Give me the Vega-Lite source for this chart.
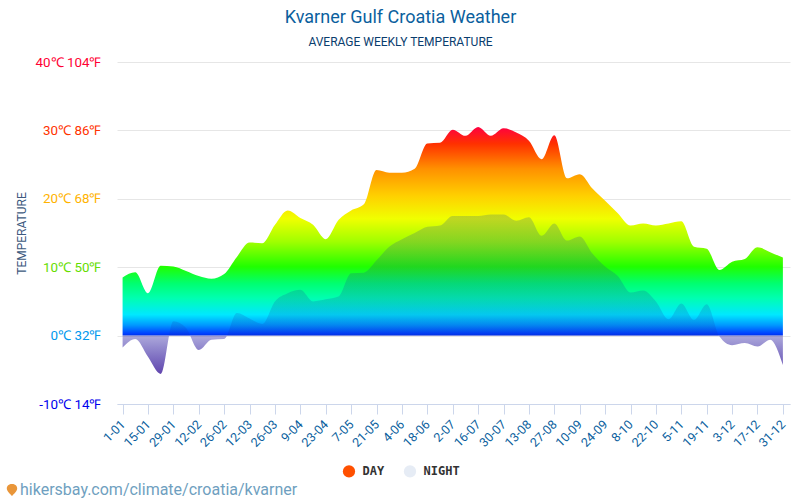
{
  "$schema": "https://vega.github.io/schema/vega-lite/v6.json",
  "background": "#ffffff",
  "autosize": "none",
  "padding": {"left": 117, "top": 62, "right": 10, "bottom": 96},
  "width": 673,
  "height": 342,
  "view": {"stroke": null},
  "title": {
    "text": "Kvarner Gulf Croatia Weather",
    "subtitle": "AVERAGE WEEKLY TEMPERATURE",
    "font": "Roboto",
    "fontSize": 18,
    "fontWeight": "normal",
    "color": "#0b5f9e",
    "subtitleFont": "Roboto",
    "subtitleFontSize": 12,
    "subtitleColor": "#0a3d6e",
    "subtitlePadding": 10,
    "anchor": "middle",
    "frame": "group",
    "dx": -53,
    "offset": 7
  },
  "data": {
    "values": [
      {"week": "1-01", "day": 8.5, "night": -1.75},
      {"week": "8-01", "day": 9.25, "night": -0.5},
      {"week": "15-01", "day": 6.2, "night": -3.1},
      {"week": "22-01", "day": 10.2, "night": -5.6},
      {"week": "29-01", "day": 10.1, "night": 2.1},
      {"week": "5-02", "day": 9.45, "night": 1.1},
      {"week": "12-02", "day": 8.7, "night": -2.1},
      {"week": "19-02", "day": 8.3, "night": -0.6},
      {"week": "26-02", "day": 9.0, "night": -0.5},
      {"week": "5-03", "day": 11.5, "night": 3.3},
      {"week": "12-03", "day": 13.6, "night": 2.5},
      {"week": "19-03", "day": 13.5, "night": 1.7},
      {"week": "26-03", "day": 16.2, "night": 5.0},
      {"week": "2-04", "day": 18.3, "night": 6.2},
      {"week": "9-04", "day": 17.2, "night": 6.7},
      {"week": "16-04", "day": 16.2, "night": 5.0},
      {"week": "23-04", "day": 14.1, "night": 5.3},
      {"week": "30-04", "day": 16.9, "night": 5.7},
      {"week": "7-05", "day": 18.3, "night": 9.1},
      {"week": "14-05", "day": 19.2, "night": 9.2},
      {"week": "21-05", "day": 24.2, "night": 11.0},
      {"week": "28-05", "day": 23.8, "night": 13.0},
      {"week": "4-06", "day": 23.8, "night": 14.1},
      {"week": "11-06", "day": 24.4, "night": 15.0},
      {"week": "18-06", "day": 28.1, "night": 15.9},
      {"week": "25-06", "day": 28.2, "night": 16.1},
      {"week": "2-07", "day": 30.1, "night": 17.5},
      {"week": "9-07", "day": 29.2, "night": 17.5},
      {"week": "16-07", "day": 30.5, "night": 17.5},
      {"week": "23-07", "day": 29.2, "night": 17.7},
      {"week": "30-07", "day": 30.3, "night": 17.7},
      {"week": "6-08", "day": 29.7, "night": 16.8},
      {"week": "13-08", "day": 28.5, "night": 17.3},
      {"week": "20-08", "day": 25.8, "night": 14.6},
      {"week": "27-08", "day": 29.3, "night": 16.4},
      {"week": "3-09", "day": 23.0, "night": 13.9},
      {"week": "10-09", "day": 23.6, "night": 14.5},
      {"week": "17-09", "day": 21.5, "night": 12.0},
      {"week": "24-09", "day": 19.7, "night": 10.1},
      {"week": "1-10", "day": 17.9, "night": 8.7},
      {"week": "8-10", "day": 16.1, "night": 6.3},
      {"week": "15-10", "day": 16.4, "night": 6.6},
      {"week": "22-10", "day": 16.1, "night": 5.0},
      {"week": "29-10", "day": 16.4, "night": 2.4},
      {"week": "5-11", "day": 16.7, "night": 4.7},
      {"week": "12-11", "day": 13.0, "night": 2.3},
      {"week": "19-11", "day": 12.7, "night": 4.6},
      {"week": "26-11", "day": 9.6, "night": -0.1},
      {"week": "3-12", "day": 10.8, "night": -1.4},
      {"week": "10-12", "day": 11.2, "night": -1.1},
      {"week": "17-12", "day": 12.9, "night": -1.6},
      {"week": "24-12", "day": 12.2, "night": -0.6},
      {"week": "31-12", "day": 11.4, "night": -4.3}
    ]
  },
  "layer": [
    {
      "mark": {
        "type": "area",
        "interpolate": "monotone",
        "color": {
          "gradient": "linear",
          "x1": 0, "y1": 0, "x2": 0, "y2": 1,
          "stops": [
            {"offset": 0, "color": "#ff0040"},
            {"offset": 0.08, "color": "#ff3000"},
            {"offset": 0.2, "color": "#ff9000"},
            {"offset": 0.33, "color": "#ffd000"},
            {"offset": 0.44, "color": "#f0ff00"},
            {"offset": 0.55, "color": "#a0ff00"},
            {"offset": 0.67, "color": "#20ff00"},
            {"offset": 0.75, "color": "#00ff70"},
            {"offset": 0.82, "color": "#00ffb0"},
            {"offset": 0.9, "color": "#00e8ff"},
            {"offset": 0.95, "color": "#0098ff"},
            {"offset": 0.99, "color": "#0040ff"},
            {"offset": 1, "color": "#0030e8"}
          ]
        }
      },
      "encoding": {
        "x": {
          "field": "week",
          "type": "nominal",
          "sort": null,
          "scale": {"type": "point", "padding": 0.5, "align": 0.44},
          "axis": {
            "title": null,
            "values": ["1-01", "15-01", "29-01", "12-02", "26-02", "12-03", "26-03", "9-04", "23-04", "7-05", "21-05", "4-06", "18-06", "2-07", "16-07", "30-07", "13-08", "27-08", "10-09", "24-09", "8-10", "22-10", "5-11", "19-11", "3-12", "17-12", "31-12"],
            "labelAngle": -45,
            "labelAlign": "right",
            "labelBaseline": "middle",
            "labelFont": "Roboto",
            "labelFontSize": 12.5,
            "labelColor": "#0b5f9e",
            "labelPadding": 8,
            "labelOverlap": false,
            "tickColor": "#ccd6eb",
            "tickSize": 10,
            "domainColor": "#ccd6eb",
            "grid": false
          }
        },
        "y": {
          "field": "day",
          "type": "quantitative",
          "scale": {"domain": [-10, 40], "nice": false},
          "axis": {
            "title": "TEMPERATURE",
            "titleFont": "Roboto",
            "titleFontSize": 12,
            "titleFontWeight": "normal",
            "titleColor": "#3d5a80",
            "titleX": -89,
            "values": [-10, 0, 10, 20, 30, 40],
            "labelExpr": "datum.value + '℃ ' + round(datum.value * 9 / 5 + 32) + '℉'",
            "labelFont": "Roboto",
            "labelFontSize": 13.4,
            "labelPadding": 16,
            "labelColor": {
              "condition": [
                {"test": "datum.value == 40", "value": "#ff0033"},
                {"test": "datum.value == 30", "value": "#ff3300"},
                {"test": "datum.value == 20", "value": "#ffb300"},
                {"test": "datum.value == 10", "value": "#66dd00"},
                {"test": "datum.value == 0", "value": "#0099ee"}
              ],
              "value": "#0000ee"
            },
            "ticks": false,
            "domain": false,
            "grid": true,
            "gridColor": "#e6e6e6"
          }
        }
      }
    },
    {
      "mark": {
        "type": "area",
        "interpolate": "monotone",
        "color": {
          "gradient": "linear",
          "x1": 0, "y1": 0, "x2": 0, "y2": 1,
          "stops": [
            {"offset": 0, "color": "rgba(60,110,120,0.28)"},
            {"offset": 0.4, "color": "rgba(30,60,150,0.2)"},
            {"offset": 0.755, "color": "rgba(20,40,170,0.16)"},
            {"offset": 0.76, "color": "rgba(60,50,170,0.42)"},
            {"offset": 1, "color": "rgba(90,60,170,0.95)"}
          ]
        }
      },
      "encoding": {
        "x": {"field": "week", "type": "nominal", "sort": null},
        "y": {"field": "night", "type": "quantitative"}
      }
    },
    {
      "data": {"values": [{"series": "DAY"}, {"series": "NIGHT"}]},
      "mark": {"type": "circle", "opacity": 0},
      "encoding": {
        "color": {
          "field": "series",
          "type": "nominal",
          "scale": {"domain": ["DAY", "NIGHT"], "range": ["#ff5000", "#e6ecf5"]},
          "legend": {
            "title": null,
            "orient": "none",
            "direction": "horizontal",
            "legendX": 225,
            "legendY": 402,
            "symbolType": "circle",
            "symbolSize": 150,
            "symbolOpacity": 1,
            "labelFont": "DejaVu Sans Mono",
            "labelFontSize": 12,
            "labelFontWeight": "bold",
            "labelColor": "#333333",
            "labelOffset": 6.5,
            "columnPadding": 18
          }
        }
      }
    },
    {
      "data": {"values": [{"site": "hikersbay.com/climate/croatia/kvarner"}]},
      "mark": {"type": "point", "filled": true, "color": "#e9963a", "opacity": 0},
      "encoding": {
        "shape": {
          "field": "site",
          "type": "nominal",
          "scale": {"range": ["M0,-1 C0.65,-1 0.85,-0.55 0.85,-0.25 C0.85,0.2 0.3,0.6 0,1 C-0.3,0.6 -0.85,0.2 -0.85,-0.25 C-0.85,-0.55 -0.65,-1 0,-1 Z"]},
          "legend": {
            "title": null,
            "orient": "none",
            "legendX": -113,
            "legendY": 420,
            "symbolSize": 150,
            "symbolOpacity": 1,
            "labelFont": "Roboto",
            "labelFontSize": 16,
            "labelColor": "#6f9fc0",
            "labelOffset": 0,
            "labelLimit": 400
          }
        }
      }
    }
  ]
}
